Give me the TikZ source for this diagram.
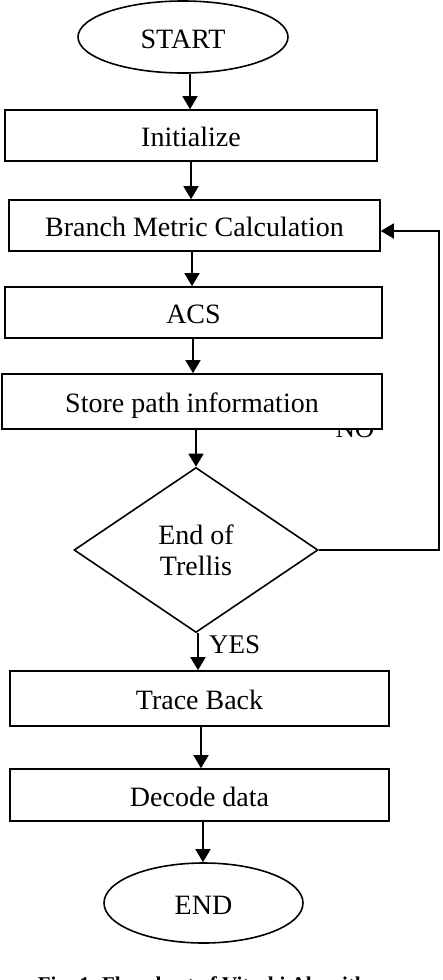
\documentclass[tikz,border=0pt]{standalone}
\usepackage{fontspec}
\setmainfont{Liberation Serif}
\usetikzlibrary{shapes.geometric,arrows.meta}
\begin{document}
\begin{tikzpicture}[x=1pt,y=-1pt,
  proc/.style={draw,fill=white,line width=1.6pt,inner sep=0pt,text height=24pt,text depth=2pt,font=\fontsize{28}{31}\selectfont},
  term/.style={ellipse,draw,fill=white,line width=1.6pt,inner sep=0pt,text height=24pt,text depth=2pt,font=\fontsize{28}{31}\selectfont},
  decis/.style={diamond,draw,fill=white,line width=1.6pt,inner sep=0pt,aspect=1.48,align=center,font=\fontsize{28}{31}\selectfont},
  arr/.style={line width=1.6pt,-{Triangle[length=13pt,width=15pt]}},
  lbl/.style={inner sep=0pt,font=\fontsize{27}{31}\selectfont}]
\useasboundingbox[clip] (0,0) rectangle (442,980);
\fill[white] (0,0) rectangle (442,980);
% label partly hidden by the box
\node[lbl,anchor=base] (no) at (355,437) {NO};
\node[term,minimum width=210pt,minimum height=72pt] (start) at (183,37) {START};
\node[proc,minimum width=372pt,minimum height=51pt] (init) at (191,135.5) {Initialize};
\node[proc,minimum width=371pt,minimum height=51pt] (bmc) at (194.5,225.5) {Branch Metric Calculation};
\node[proc,minimum width=377pt,minimum height=51pt] (acs) at (193.5,312.5) {ACS};
\node[proc,minimum width=380pt,minimum height=55pt] (store) at (192,401.5) {Store path information};
\node[decis,minimum width=244pt,minimum height=165pt] (dec) at (196,550) {End of\\Trellis};
\node[proc,minimum width=379pt,minimum height=55pt] (trace) at (199.5,698.5) {Trace Back};
\node[proc,minimum width=379pt,minimum height=52pt] (decode) at (199.5,795) {Decode data};
\node[term,minimum width=199pt,minimum height=80pt] (end) at (203.5,903) {END};
\node[lbl,anchor=base west] (yes) at (209,653) {YES};
\node[inner sep=0pt,anchor=base,font=\bfseries\fontsize{21}{25}\selectfont] (cap) at (211,991) {Fig. 1. Flowchart of Viterbi Algorithm};
% connectors
\draw[arr] (start.south -| 190,0) -- (init.north -| 190,0);
\draw[arr] (init.south -| 191,0) -- (bmc.north -| 191,0);
\draw[arr] (bmc.south -| 192,0) -- (acs.north -| 192,0);
\draw[arr] (acs.south -| 193,0) -- (store.north -| 193,0);
\draw[arr] (store.south -| 196,0) -- (dec.north -| 196,0);
\draw[arr] (dec.south -| 198,0) -- (trace.north -| 198,0);
\draw[arr] (trace.south -| 201,0) -- (decode.north -| 201,0);
\draw[arr] (decode.south -| 203,0) -- (end.north -| 203,0);
\draw[arr] (dec.east) -- (439,0 |- dec.east) |- (bmc.east |- 0,231);
\end{tikzpicture}
\end{document}
